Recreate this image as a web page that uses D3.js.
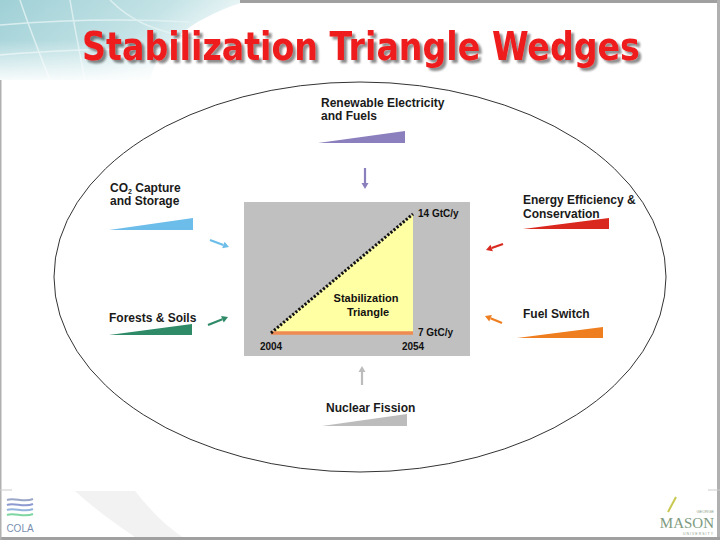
<!DOCTYPE html>
<html><head><meta charset="utf-8">
<script src="https://cdn.jsdelivr.net/npm/d3@7"></script>
<style>html,body{margin:0;padding:0;background:#fff;}svg{display:block;}</style>
</head><body>
<script>
// ---- data ----
const years = [2004, 2054];
const emissionsBase = [7, 7];          // GtC/y, flat path
const emissionsBAU = [7, 14];          // GtC/y, business-as-usual
const endLabels = ["7 GtC/y", "14 GtC/y"];
const wedgeNames = ["Renewable Electricity|and Fuels", "CO2 Capture|and Storage", "Forests & Soils",
                    "Energy Efficiency &|Conservation", "Fuel Switch", "Nuclear Fission"];
const wedgeColors = ["#8b7fbd", "#6cbdea", "#2f8a68", "#d9281d", "#ee7e1f", "#bcbcbc"];
const wedgeGrowth = [0, 1];            // each wedge: 0 -> 1 GtC/y over 50 years
const titleText = "Stabilization Triangle Wedges";

// ---- layout (not data) ----
const W = 720, H = 540;
const layout = [
  {tx: 321, ty: 107, lh: 13, wx: 318, wy: 143, aw: 87, ah: 12, a: [365, 168, 365, 189]},
  {tx: 110, ty: 192, lh: 13, wx: 109, wy: 230, aw: 84, ah: 12, a: [210, 240, 229, 247]},
  {tx: 109, ty: 322, lh: 13, wx: 109, wy: 335, aw: 83, ah: 11, a: [208, 325, 228, 317]},
  {tx: 523, ty: 204, lh: 13.5, wx: 523, wy: 229, aw: 86, ah: 11, a: [503, 244, 486, 250]},
  {tx: 523, ty: 318, lh: 13, wx: 517, wy: 338, aw: 86, ah: 11, a: [502, 323, 485, 316]},
  {tx: 326, ty: 412, lh: 13, wx: 322, wy: 426, aw: 85, ah: 12, a: [362, 385, 362, 366]}
];

const svg = d3.select("body").append("svg").attr("width", W).attr("height", H);
const defs = svg.append("defs");

// background decoration
const g1 = defs.append("linearGradient").attr("id", "tealg").attr("x1", 0).attr("y1", 0).attr("x2", 1).attr("y2", 0.4);
g1.append("stop").attr("offset", "0%").attr("stop-color", "#9fd0d6");
g1.append("stop").attr("offset", "60%").attr("stop-color", "#c4e3e6");
g1.append("stop").attr("offset", "100%").attr("stop-color", "#ffffff");
const g2 = defs.append("linearGradient").attr("id", "fadeg").attr("x1", 0).attr("y1", 0).attr("x2", 0).attr("y2", 1);
g2.append("stop").attr("offset", "0%").attr("stop-color", "#fff").attr("stop-opacity", 0);
g2.append("stop").attr("offset", "100%").attr("stop-color", "#fff").attr("stop-opacity", 1);
const shadow = defs.append("filter").attr("id", "sh").attr("x", "-10%").attr("y", "-40%").attr("width", "125%").attr("height", "190%");
shadow.append("feGaussianBlur").attr("in", "SourceAlpha").attr("stdDeviation", 1.2).attr("result", "b");
shadow.append("feOffset").attr("in", "b").attr("dx", 2.5).attr("dy", 2.5).attr("result", "o");
shadow.append("feComponentTransfer").attr("in", "o").attr("result", "o2")
  .append("feFuncA").attr("type", "linear").attr("slope", 0.45);
const fm = shadow.append("feMerge");
fm.append("feMergeNode").attr("in", "o2");
fm.append("feMergeNode").attr("in", "SourceGraphic");

svg.append("rect").attr("width", W).attr("height", H).attr("fill", "#fff");
svg.append("path").attr("d", "M0,0 L250,0 C200,15 160,40 150,80 L0,80 Z").attr("fill", "url(#tealg)");
const grid = svg.append("g").attr("stroke", "#e6f3f4").attr("stroke-width", 1.5).attr("fill", "none").attr("opacity", 0.8);
grid.append("path").attr("d", "M20,0 C30,30 40,55 50,80");
grid.append("path").attr("d", "M70,0 C75,30 80,55 85,80");
grid.append("path").attr("d", "M0,25 C60,20 120,18 190,22");
grid.append("path").attr("d", "M0,55 C60,50 110,48 160,50");
grid.append("path").attr("d", "M110,0 C130,20 150,30 200,40");
svg.append("rect").attr("x", 0).attr("y", 40).attr("width", 260).attr("height", 45).attr("fill", "url(#fadeg)");
svg.append("rect").attr("x", 240).attr("y", 0).attr("width", 480).attr("height", 3).attr("fill", "#a0a0a0");
svg.append("rect").attr("x", 717).attr("y", 0).attr("width", 3).attr("height", H).attr("fill", "#b0b0b0");
svg.append("rect").attr("x", 0).attr("y", 537).attr("width", W).attr("height", 3).attr("fill", "#a0a0a0");
svg.append("rect").attr("x", 0).attr("y", 80).attr("width", 1.5).attr("height", 460).attr("fill", "#b0b0b0");
svg.append("path").attr("d", "M75,491 L135,491 C150,510 165,525 182,537 L135,537 C110,520 90,505 75,491 Z").attr("fill", "#f2f2f2");
svg.append("line").attr("x1", 0).attr("x2", 12).attr("y1", 490).attr("y2", 490).attr("stroke", "#ccc");
svg.append("line").attr("x1", 708).attr("x2", 720).attr("y1", 490).attr("y2", 490).attr("stroke", "#ccc");

// title (scaled horizontally to match the reference width)
const tg = svg.append("g").attr("filter", "url(#sh)");
const title = tg.append("text").text(titleText)
  .attr("x", 0).attr("y", 0).attr("text-anchor", "middle")
  .attr("font-family", "'DejaVu Sans', sans-serif").attr("font-weight", "bold").attr("font-size", 39)
  .attr("fill", "#ee1c1c");
const tw = title.node().getComputedTextLength();
title.attr("transform", `translate(361,60) scale(${558 / tw},1)`);

// ellipse
svg.append("ellipse").attr("cx", 360).attr("cy", 277).attr("rx", 306).attr("ry", 195)
  .attr("fill", "none").attr("stroke", "#333").attr("stroke-width", 1);

// central chart
const x = d3.scaleLinear().domain(d3.extent(years)).range([271, 413]);
const y = d3.scaleLinear().domain([7, 14]).range([333, 214]);
svg.append("rect").attr("x", 244).attr("y", 202).attr("width", 226).attr("height", 154).attr("fill", "#c0c0c0");

const area = d3.area().x((d, i) => x(years[i])).y0((d, i) => y(emissionsBase[i])).y1(d => y(d));
svg.append("path").datum(emissionsBAU).attr("d", area).attr("fill", "#ffffa3");
svg.append("path").datum(emissionsBase)
  .attr("d", d3.line().x((d, i) => x(years[i])).y(d => y(d)))
  .attr("stroke", "#ef8a52").attr("stroke-width", 3.5).attr("fill", "none");
svg.append("path").datum(emissionsBAU)
  .attr("d", d3.line().x((d, i) => x(years[i])).y(d => y(d)))
  .attr("stroke", "#111").attr("stroke-width", 3).attr("stroke-dasharray", "2.2 1.8").attr("fill", "none");

const bold = (sel, size) => sel.attr("font-family", "'Liberation Sans', Arial, sans-serif").attr("font-weight", "bold").attr("font-size", size).attr("fill", "#111");
years.forEach((yr, i) => {
  bold(svg.append("text"), 10).text(yr).attr("x", x(yr)).attr("y", 350).attr("text-anchor", "middle");
});
[7, 14].forEach((v, i) => {
  bold(svg.append("text"), 10).text(endLabels[i]).attr("x", x(years[1]) + 5).attr("y", y(v) + 3);
});
bold(svg.append("text"), 11).text("Stabilization").attr("x", 366).attr("y", 302).attr("text-anchor", "middle");
bold(svg.append("text"), 11).text("Triangle").attr("x", 368).attr("y", 316).attr("text-anchor", "middle");

// wedges
wedgeNames.forEach((name, i) => {
  const L = layout[i], c = wedgeColors[i];
  const g = svg.append("g");
  const t = bold(g.append("text"), 12).attr("x", L.tx).attr("y", L.ty).attr("fill", "#1a1a1a");
  name.split("|").forEach((line, j) => {
    const ts = t.append("tspan").attr("x", L.tx).attr("dy", j === 0 ? 0 : L.lh);
    if (line.startsWith("CO2")) {
      ts.text("CO");
      ts.append("tspan").text("2").attr("font-size", 7).attr("dy", 2);
      ts.append("tspan").text(line.slice(3)).attr("dy", -2);
    } else ts.text(line);
  });
  const wx = d3.scaleLinear().domain(d3.extent(years)).range([L.wx, L.wx + L.aw]);
  const wy = d3.scaleLinear().domain([0, 1]).range([L.wy, L.wy - L.ah]);
  const wa = d3.area().x((d, k) => wx(years[k])).y0(wy(0)).y1(d => wy(d));
  g.append("path").datum(wedgeGrowth).attr("d", wa).attr("fill", c);
  // arrow
  const [x1, y1, x2, y2] = L.a;
  const ang = Math.atan2(y2 - y1, x2 - x1);
  const hl = 6, hw = 3.5;
  const bx = x2 - hl * Math.cos(ang), by = y2 - hl * Math.sin(ang);
  g.append("line").attr("x1", x1).attr("y1", y1).attr("x2", bx).attr("y2", by)
    .attr("stroke", c).attr("stroke-width", 2.2);
  g.append("path").attr("d", `M${x2},${y2} L${bx - hw * Math.sin(ang)},${by + hw * Math.cos(ang)} L${bx + hw * Math.sin(ang)},${by - hw * Math.cos(ang)} Z`)
    .attr("fill", c);
});

// logos
const cola = svg.append("g");
[0, 1, 2, 3].forEach(k => {
  cola.append("path").attr("d", `M7,${500 + k * 5} C14,${497 + k * 5} 24,${503 + k * 5} 33,${499 + k * 5}`)
    .attr("stroke", ["#9aa6c8", "#8c9ad0", "#93b4dc", "#7fd6a0"][k]).attr("stroke-width", 2).attr("fill", "none");
});
cola.append("text").text("COLA").attr("x", 20).attr("y", 532).attr("text-anchor", "middle")
  .attr("font-family", "'Liberation Sans', sans-serif").attr("font-size", 10).attr("fill", "#7a8fb0");
svg.append("text").text("MASON").attr("x", 714).attr("y", 528).attr("text-anchor", "end")
  .attr("font-family", "'Liberation Serif', serif").attr("font-size", 15).attr("fill", "#7e9a80");
svg.append("text").text("GEORGE").attr("x", 714).attr("y", 513).attr("text-anchor", "end")
  .attr("font-family", "'Liberation Sans', sans-serif").attr("font-size", 4).attr("fill", "#8aa08a");
svg.append("text").text("UNIVERSITY").attr("x", 714).attr("y", 535).attr("text-anchor", "end")
  .attr("font-family", "'Liberation Sans', sans-serif").attr("font-size", 3.5).attr("letter-spacing", 1).attr("fill", "#8aa08a");
svg.append("path").attr("d", "M668,512 L676,497").attr("stroke", "#c8c850").attr("stroke-width", 2);
</script>
</body></html>
